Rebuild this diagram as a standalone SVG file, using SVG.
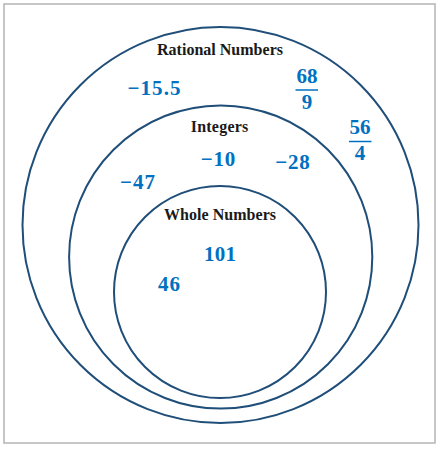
<svg xmlns="http://www.w3.org/2000/svg" width="440" height="449" viewBox="0 0 440 449">
<style>
.ring{fill:none;stroke:#1f4e79;stroke-width:2}
.lbl{font-family:"Liberation Serif","DejaVu Serif",serif;font-weight:bold;font-size:16px;fill:#1a1a1a;text-anchor:middle}
.num{font-family:"Liberation Serif","DejaVu Serif",serif;font-weight:bold;font-size:21px;fill:#0070c0;text-anchor:middle}
.bar{stroke:#0070c0;stroke-width:1.5}
</style>
<rect x="4" y="4" width="431" height="439" fill="#ffffff" stroke="#b4b4b4" stroke-width="1.5"/>
<g id="rational">
<circle class="ring" cx="220.5" cy="225" r="198"/>
<text class="lbl" x="220" y="55" textLength="126">Rational Numbers</text>
<text class="num" x="154" y="95" textLength="53">−15.5</text>
<text class="num" x="307" y="82.5">68</text>
<line class="bar" x1="295.5" y1="90" x2="318" y2="90"/>
<text class="num" x="307" y="108.5">9</text>
<text class="num" x="360" y="133.5">56</text>
<line class="bar" x1="349" y1="141.5" x2="371.5" y2="141.5"/>
<text class="num" x="360" y="159.5">4</text>
</g>
<g id="integers">
<circle class="ring" cx="220.7" cy="257" r="151.6"/>
<text class="lbl" x="219.5" y="131.5" textLength="57.5">Integers</text>
<text class="num" x="218" y="165.5" textLength="34.5">−10</text>
<text class="num" x="292.5" y="169" textLength="34.5">−28</text>
<text class="num" x="137.5" y="188.5" textLength="35">−47</text>
</g>
<g id="whole">
<circle class="ring" cx="220" cy="292" r="106"/>
<text class="lbl" x="220" y="220" textLength="112">Whole Numbers</text>
<text class="num" x="220" y="260.5" textLength="32">101</text>
<text class="num" x="169" y="290.5" textLength="22">46</text>
</g>
</svg>
